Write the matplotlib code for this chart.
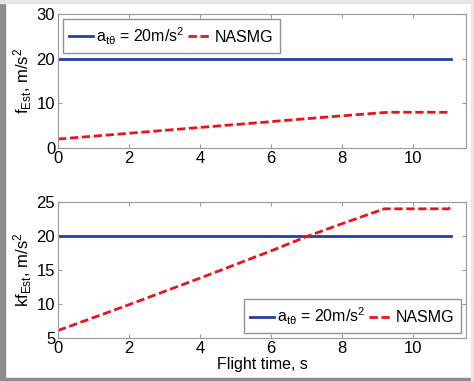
import matplotlib
matplotlib.use('Agg')
import matplotlib.pyplot as plt
from matplotlib.patches import Rectangle

plt.rcParams['font.family'] = ['Liberation Sans', 'DejaVu Sans']
plt.rcParams['mathtext.fontset'] = 'custom'
plt.rcParams['mathtext.rm'] = 'Liberation Sans'
plt.rcParams['mathtext.it'] = 'Liberation Sans'

# data
t_ref = [0, 11.07]
a_ref = [20, 20]

t_f = [0, 2, 4, 6, 8, 9.3, 10.0, 11.07]
f_est = [2.0, 3.3, 4.6, 5.9, 7.2, 8.0, 8.0, 8.0]

t_kf = [0, 2, 4, 6, 7, 8, 9.2, 10.0, 11.0, 11.07]
kf_est = [6.1, 9.9, 13.8, 17.8, 19.9, 21.8, 24.0, 24.0, 24.0, 24.2]

blue = '#2340a0'
red = '#e8141c'
frame = '#999999'
ref_label = r'$\mathrm{a_{t\theta}}$ = 20m/s$^2$'

fig = plt.figure(figsize=(4.74, 3.81), dpi=100)
ax1 = fig.add_axes([58/474, 1-148/381, 408/474, 134/381])
ax2 = fig.add_axes([58/474, 1-338/381, 408/474, 136/381])

for ax in (ax1, ax2):
    ax.set_xlim(0, 11.5)
    ax.set_xticks([0, 2, 4, 6, 8, 10])
    ax.tick_params(direction='in', top=True, right=True, length=3,
                   color=frame, labelsize=12, pad=2)
    for s in ax.spines.values():
        s.set_color(frame)
        s.set_linewidth(0.8)

leg_kw = dict(ncol=2, fontsize=11.5, frameon=True, fancybox=False,
              edgecolor='#777777', handlelength=1.5, handletextpad=0.2,
              columnspacing=0.2, borderpad=0.4, borderaxespad=0.3)

ax1.plot(t_ref, a_ref, color=blue, lw=2, label=ref_label)
ax1.plot(t_f, f_est, color=red, lw=2, ls=(0, (3, 1.3)), label='NASMG')
ax1.set_ylim(0, 30)
ax1.set_yticks([0, 10, 20, 30])
ax1.set_ylabel(r'$\mathrm{f_{Est}}$, m/s$^2$', fontsize=12, labelpad=2)
ax1.legend(loc='upper left', **leg_kw)

ax2.plot(t_ref, a_ref, color=blue, lw=2, label=ref_label)
ax2.plot(t_kf, kf_est, color=red, lw=2, ls=(0, (3, 1.3)), label='NASMG')
ax2.set_ylim(5, 25)
ax2.set_yticks([5, 10, 15, 20, 25])
ax2.set_ylabel(r'$\mathrm{kf_{Est}}$, m/s$^2$', fontsize=12, labelpad=2)
ax2.set_xlabel('Flight time, s', fontsize=11.5, labelpad=1)
ax2.legend(loc='lower right', **leg_kw)

# picture border strips
fig.add_artist(Rectangle((0, 0), 5/474, 1, transform=fig.transFigure, color='#8c8c8c', zorder=-1))
fig.add_artist(Rectangle((0, 0), 1, 3/381, transform=fig.transFigure, color='#8c8c8c', zorder=-1))
fig.add_artist(Rectangle((0, 1-3/381), 1, 3/381, transform=fig.transFigure, color='#e6e6e6', zorder=-1))
fig.add_artist(Rectangle((1-3/474, 0), 3/474, 1, transform=fig.transFigure, color='#e6e6e6', zorder=-1))

fig.savefig('out.png', dpi=100)
